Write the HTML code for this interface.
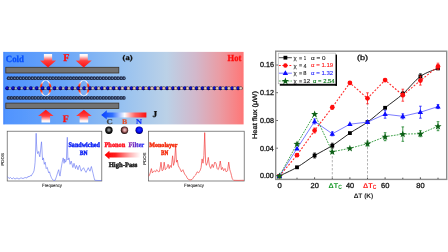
<!DOCTYPE html>
<html><head><meta charset="utf-8"><title>figure</title>
<style>html,body{margin:0;padding:0;background:#fff}svg{display:block}</style></head>
<body>
<svg width="448" height="252" viewBox="0 0 448 252" text-rendering="geometricPrecision">
<defs>
<filter id="soft" x="0" y="0" width="448" height="252" filterUnits="userSpaceOnUse"><feGaussianBlur stdDeviation="0.35"/></filter>
<linearGradient id="pg" x1="0" x2="1" y1="0" y2="0">
<stop offset="0" stop-color="#4f93ff"/>
<stop offset="0.25" stop-color="#6aa6f8"/>
<stop offset="0.5" stop-color="#98c2f0"/>
<stop offset="0.68" stop-color="#bbd1e7"/>
<stop offset="0.80" stop-color="#d2b8cb"/>
<stop offset="0.90" stop-color="#ea9ca4"/>
<stop offset="1" stop-color="#ff7676"/>
</linearGradient>
<linearGradient id="dn" x1="0" x2="0" y1="0" y2="1">
<stop offset="0" stop-color="#ffffff"/><stop offset="0.15" stop-color="#fff0f0"/><stop offset="0.5" stop-color="#ff4040"/><stop offset="1" stop-color="#ff1010"/>
</linearGradient>
<linearGradient id="up" x1="0" x2="0" y1="1" y2="0">
<stop offset="0" stop-color="#ffffff"/><stop offset="0.15" stop-color="#fff0f0"/><stop offset="0.5" stop-color="#ff4040"/><stop offset="1" stop-color="#ff1010"/>
</linearGradient>
<linearGradient id="jg" x1="0" x2="1" y1="0" y2="0">
<stop offset="0" stop-color="#0a40ff"/><stop offset="0.25" stop-color="#3070ff"/><stop offset="0.52" stop-color="#ffffff"/><stop offset="0.75" stop-color="#ff6060"/><stop offset="1" stop-color="#ff1010"/>
</linearGradient>
<linearGradient id="ra" x1="0" x2="1" y1="0" y2="0">
<stop offset="0" stop-color="#ff0000"/><stop offset="0.3" stop-color="#ff2020"/><stop offset="0.7" stop-color="#ffb0b0"/><stop offset="1" stop-color="#ffffff"/>
</linearGradient>
<linearGradient id="ring" x1="0" x2="0" y1="0" y2="1">
<stop offset="0" stop-color="#ffffff"/><stop offset="0.12" stop-color="#fff4f0"/><stop offset="0.3" stop-color="#ff3818"/><stop offset="0.5" stop-color="#ff1800"/><stop offset="0.7" stop-color="#ff3818"/><stop offset="0.88" stop-color="#fff4f0"/><stop offset="1" stop-color="#ffffff"/>
</linearGradient>
<radialGradient id="nb" cx="0.42" cy="0.42" r="0.6"><stop offset="0" stop-color="#1420f0"/><stop offset="0.45" stop-color="#0404b8"/><stop offset="1" stop-color="#000030"/></radialGradient>
<radialGradient id="bb" cx="0.5" cy="0.48" r="0.58"><stop offset="0" stop-color="#f8e8ec"/><stop offset="0.4" stop-color="#d8b4aa"/><stop offset="0.75" stop-color="#907060"/><stop offset="1" stop-color="#2a2018"/></radialGradient>
<radialGradient id="bg" cx="0.5" cy="0.48" r="0.58"><stop offset="0" stop-color="#d4d8ea"/><stop offset="0.4" stop-color="#98a0b8"/><stop offset="0.75" stop-color="#586078"/><stop offset="1" stop-color="#181c2c"/></radialGradient>
<radialGradient id="cC" cx="0.5" cy="0.47" r="0.52"><stop offset="0" stop-color="#a8a8a8"/><stop offset="0.35" stop-color="#6a6a6a"/><stop offset="0.62" stop-color="#1c1c1c"/><stop offset="1" stop-color="#000000"/></radialGradient>
<radialGradient id="cB" cx="0.53" cy="0.47" r="0.52"><stop offset="0" stop-color="#f6d4d4"/><stop offset="0.4" stop-color="#cc8c8c"/><stop offset="0.68" stop-color="#7a4444"/><stop offset="1" stop-color="#1c0c0c"/></radialGradient>
<radialGradient id="cN" cx="0.5" cy="0.45" r="0.55"><stop offset="0" stop-color="#2038ff"/><stop offset="0.6" stop-color="#0008f0"/><stop offset="0.85" stop-color="#0000a0"/><stop offset="1" stop-color="#000040"/></radialGradient>
<linearGradient id="filt" x1="0" x2="1" y1="0" y2="0"><stop offset="0" stop-color="#9020a0"/><stop offset="1" stop-color="#2030ff"/></linearGradient>
</defs>
<rect width="448" height="252" fill="#fff"/>
<g filter="url(#soft)">
<rect x="3.4" y="51.9" width="240.2" height="72.5" fill="url(#pg)"/>
<rect x="3.4" y="51.9" width="1" height="72.5" fill="#3a7cf8" opacity="0.7"/>
<rect x="5.8" y="67.3" width="113" height="5.6999999999999975" fill="#727272" stroke="#3c3226" stroke-width="0.8"/>
<rect x="5.8" y="103.1" width="113" height="5.4" fill="#727272" stroke="#3c3226" stroke-width="0.8"/>
<circle cx="8.50" cy="78.2" r="1.85" fill="#202c48"/>
<circle cx="11.35" cy="78.2" r="1.85" fill="#202c48"/>
<ellipse cx="8.85" cy="78.2" rx="0.75" ry="0.7" fill="#7890bc"/>
<ellipse cx="11.70" cy="78.2" rx="0.75" ry="0.7" fill="#7890bc"/>
<circle cx="14.42" cy="78.2" r="1.85" fill="#202c48"/>
<circle cx="17.27" cy="78.2" r="1.85" fill="#202c48"/>
<ellipse cx="14.77" cy="78.2" rx="0.75" ry="0.7" fill="#7890bc"/>
<ellipse cx="17.62" cy="78.2" rx="0.75" ry="0.7" fill="#7890bc"/>
<circle cx="20.34" cy="78.2" r="1.85" fill="#202c48"/>
<circle cx="23.19" cy="78.2" r="1.85" fill="#202c48"/>
<ellipse cx="20.69" cy="78.2" rx="0.75" ry="0.7" fill="#7890bc"/>
<ellipse cx="23.54" cy="78.2" rx="0.75" ry="0.7" fill="#7890bc"/>
<circle cx="26.26" cy="78.2" r="1.85" fill="#202c48"/>
<circle cx="29.11" cy="78.2" r="1.85" fill="#202c48"/>
<ellipse cx="26.61" cy="78.2" rx="0.75" ry="0.7" fill="#7890bc"/>
<ellipse cx="29.46" cy="78.2" rx="0.75" ry="0.7" fill="#7890bc"/>
<circle cx="32.18" cy="78.2" r="1.85" fill="#202c48"/>
<circle cx="35.03" cy="78.2" r="1.85" fill="#202c48"/>
<ellipse cx="32.53" cy="78.2" rx="0.75" ry="0.7" fill="#7890bc"/>
<ellipse cx="35.38" cy="78.2" rx="0.75" ry="0.7" fill="#7890bc"/>
<circle cx="38.10" cy="78.2" r="1.85" fill="#202c48"/>
<circle cx="40.95" cy="78.2" r="1.85" fill="#202c48"/>
<ellipse cx="38.45" cy="78.2" rx="0.75" ry="0.7" fill="#7890bc"/>
<ellipse cx="41.30" cy="78.2" rx="0.75" ry="0.7" fill="#7890bc"/>
<circle cx="44.02" cy="78.2" r="1.85" fill="#202c48"/>
<circle cx="46.87" cy="78.2" r="1.85" fill="#202c48"/>
<ellipse cx="44.37" cy="78.2" rx="0.75" ry="0.7" fill="#7890bc"/>
<ellipse cx="47.22" cy="78.2" rx="0.75" ry="0.7" fill="#7890bc"/>
<circle cx="49.94" cy="78.2" r="1.85" fill="#202c48"/>
<circle cx="52.79" cy="78.2" r="1.85" fill="#202c48"/>
<ellipse cx="50.29" cy="78.2" rx="0.75" ry="0.7" fill="#7890bc"/>
<ellipse cx="53.14" cy="78.2" rx="0.75" ry="0.7" fill="#7890bc"/>
<circle cx="55.86" cy="78.2" r="1.85" fill="#202c48"/>
<circle cx="58.71" cy="78.2" r="1.85" fill="#202c48"/>
<ellipse cx="56.21" cy="78.2" rx="0.75" ry="0.7" fill="#7890bc"/>
<ellipse cx="59.06" cy="78.2" rx="0.75" ry="0.7" fill="#7890bc"/>
<circle cx="61.78" cy="78.2" r="1.85" fill="#202c48"/>
<circle cx="64.63" cy="78.2" r="1.85" fill="#202c48"/>
<ellipse cx="62.13" cy="78.2" rx="0.75" ry="0.7" fill="#7890bc"/>
<ellipse cx="64.98" cy="78.2" rx="0.75" ry="0.7" fill="#7890bc"/>
<circle cx="67.70" cy="78.2" r="1.85" fill="#202c48"/>
<circle cx="70.55" cy="78.2" r="1.85" fill="#202c48"/>
<ellipse cx="68.05" cy="78.2" rx="0.75" ry="0.7" fill="#7890bc"/>
<ellipse cx="70.90" cy="78.2" rx="0.75" ry="0.7" fill="#7890bc"/>
<circle cx="73.62" cy="78.2" r="1.85" fill="#202c48"/>
<circle cx="76.47" cy="78.2" r="1.85" fill="#202c48"/>
<ellipse cx="73.97" cy="78.2" rx="0.75" ry="0.7" fill="#7890bc"/>
<ellipse cx="76.82" cy="78.2" rx="0.75" ry="0.7" fill="#7890bc"/>
<circle cx="79.54" cy="78.2" r="1.85" fill="#202c48"/>
<circle cx="82.39" cy="78.2" r="1.85" fill="#202c48"/>
<ellipse cx="79.89" cy="78.2" rx="0.75" ry="0.7" fill="#7890bc"/>
<ellipse cx="82.74" cy="78.2" rx="0.75" ry="0.7" fill="#7890bc"/>
<circle cx="85.46" cy="78.2" r="1.85" fill="#202c48"/>
<circle cx="88.31" cy="78.2" r="1.85" fill="#202c48"/>
<ellipse cx="85.81" cy="78.2" rx="0.75" ry="0.7" fill="#7890bc"/>
<ellipse cx="88.66" cy="78.2" rx="0.75" ry="0.7" fill="#7890bc"/>
<circle cx="91.38" cy="78.2" r="1.85" fill="#202c48"/>
<circle cx="94.23" cy="78.2" r="1.85" fill="#202c48"/>
<ellipse cx="91.73" cy="78.2" rx="0.75" ry="0.7" fill="#7890bc"/>
<ellipse cx="94.58" cy="78.2" rx="0.75" ry="0.7" fill="#7890bc"/>
<circle cx="97.30" cy="78.2" r="1.85" fill="#202c48"/>
<circle cx="100.15" cy="78.2" r="1.85" fill="#202c48"/>
<ellipse cx="97.65" cy="78.2" rx="0.75" ry="0.7" fill="#7890bc"/>
<ellipse cx="100.50" cy="78.2" rx="0.75" ry="0.7" fill="#7890bc"/>
<circle cx="103.22" cy="78.2" r="1.85" fill="#202c48"/>
<circle cx="106.07" cy="78.2" r="1.85" fill="#202c48"/>
<ellipse cx="103.57" cy="78.2" rx="0.75" ry="0.7" fill="#7890bc"/>
<ellipse cx="106.42" cy="78.2" rx="0.75" ry="0.7" fill="#7890bc"/>
<circle cx="109.14" cy="78.2" r="1.85" fill="#202c48"/>
<circle cx="111.99" cy="78.2" r="1.85" fill="#202c48"/>
<ellipse cx="109.49" cy="78.2" rx="0.75" ry="0.7" fill="#7890bc"/>
<ellipse cx="112.34" cy="78.2" rx="0.75" ry="0.7" fill="#7890bc"/>
<circle cx="115.06" cy="78.2" r="1.85" fill="#202c48"/>
<circle cx="117.91" cy="78.2" r="1.85" fill="#202c48"/>
<ellipse cx="115.41" cy="78.2" rx="0.75" ry="0.7" fill="#7890bc"/>
<ellipse cx="118.26" cy="78.2" rx="0.75" ry="0.7" fill="#7890bc"/>
<circle cx="120.98" cy="78.2" r="1.85" fill="#202c48"/>
<circle cx="123.83" cy="78.2" r="1.85" fill="#202c48"/>
<ellipse cx="121.33" cy="78.2" rx="0.75" ry="0.7" fill="#7890bc"/>
<ellipse cx="124.18" cy="78.2" rx="0.75" ry="0.7" fill="#7890bc"/>
<circle cx="8.50" cy="97.9" r="1.85" fill="#202c48"/>
<circle cx="11.35" cy="97.9" r="1.85" fill="#202c48"/>
<ellipse cx="8.85" cy="97.9" rx="0.75" ry="0.7" fill="#7890bc"/>
<ellipse cx="11.70" cy="97.9" rx="0.75" ry="0.7" fill="#7890bc"/>
<circle cx="14.42" cy="97.9" r="1.85" fill="#202c48"/>
<circle cx="17.27" cy="97.9" r="1.85" fill="#202c48"/>
<ellipse cx="14.77" cy="97.9" rx="0.75" ry="0.7" fill="#7890bc"/>
<ellipse cx="17.62" cy="97.9" rx="0.75" ry="0.7" fill="#7890bc"/>
<circle cx="20.34" cy="97.9" r="1.85" fill="#202c48"/>
<circle cx="23.19" cy="97.9" r="1.85" fill="#202c48"/>
<ellipse cx="20.69" cy="97.9" rx="0.75" ry="0.7" fill="#7890bc"/>
<ellipse cx="23.54" cy="97.9" rx="0.75" ry="0.7" fill="#7890bc"/>
<circle cx="26.26" cy="97.9" r="1.85" fill="#202c48"/>
<circle cx="29.11" cy="97.9" r="1.85" fill="#202c48"/>
<ellipse cx="26.61" cy="97.9" rx="0.75" ry="0.7" fill="#7890bc"/>
<ellipse cx="29.46" cy="97.9" rx="0.75" ry="0.7" fill="#7890bc"/>
<circle cx="32.18" cy="97.9" r="1.85" fill="#202c48"/>
<circle cx="35.03" cy="97.9" r="1.85" fill="#202c48"/>
<ellipse cx="32.53" cy="97.9" rx="0.75" ry="0.7" fill="#7890bc"/>
<ellipse cx="35.38" cy="97.9" rx="0.75" ry="0.7" fill="#7890bc"/>
<circle cx="38.10" cy="97.9" r="1.85" fill="#202c48"/>
<circle cx="40.95" cy="97.9" r="1.85" fill="#202c48"/>
<ellipse cx="38.45" cy="97.9" rx="0.75" ry="0.7" fill="#7890bc"/>
<ellipse cx="41.30" cy="97.9" rx="0.75" ry="0.7" fill="#7890bc"/>
<circle cx="44.02" cy="97.9" r="1.85" fill="#202c48"/>
<circle cx="46.87" cy="97.9" r="1.85" fill="#202c48"/>
<ellipse cx="44.37" cy="97.9" rx="0.75" ry="0.7" fill="#7890bc"/>
<ellipse cx="47.22" cy="97.9" rx="0.75" ry="0.7" fill="#7890bc"/>
<circle cx="49.94" cy="97.9" r="1.85" fill="#202c48"/>
<circle cx="52.79" cy="97.9" r="1.85" fill="#202c48"/>
<ellipse cx="50.29" cy="97.9" rx="0.75" ry="0.7" fill="#7890bc"/>
<ellipse cx="53.14" cy="97.9" rx="0.75" ry="0.7" fill="#7890bc"/>
<circle cx="55.86" cy="97.9" r="1.85" fill="#202c48"/>
<circle cx="58.71" cy="97.9" r="1.85" fill="#202c48"/>
<ellipse cx="56.21" cy="97.9" rx="0.75" ry="0.7" fill="#7890bc"/>
<ellipse cx="59.06" cy="97.9" rx="0.75" ry="0.7" fill="#7890bc"/>
<circle cx="61.78" cy="97.9" r="1.85" fill="#202c48"/>
<circle cx="64.63" cy="97.9" r="1.85" fill="#202c48"/>
<ellipse cx="62.13" cy="97.9" rx="0.75" ry="0.7" fill="#7890bc"/>
<ellipse cx="64.98" cy="97.9" rx="0.75" ry="0.7" fill="#7890bc"/>
<circle cx="67.70" cy="97.9" r="1.85" fill="#202c48"/>
<circle cx="70.55" cy="97.9" r="1.85" fill="#202c48"/>
<ellipse cx="68.05" cy="97.9" rx="0.75" ry="0.7" fill="#7890bc"/>
<ellipse cx="70.90" cy="97.9" rx="0.75" ry="0.7" fill="#7890bc"/>
<circle cx="73.62" cy="97.9" r="1.85" fill="#202c48"/>
<circle cx="76.47" cy="97.9" r="1.85" fill="#202c48"/>
<ellipse cx="73.97" cy="97.9" rx="0.75" ry="0.7" fill="#7890bc"/>
<ellipse cx="76.82" cy="97.9" rx="0.75" ry="0.7" fill="#7890bc"/>
<circle cx="79.54" cy="97.9" r="1.85" fill="#202c48"/>
<circle cx="82.39" cy="97.9" r="1.85" fill="#202c48"/>
<ellipse cx="79.89" cy="97.9" rx="0.75" ry="0.7" fill="#7890bc"/>
<ellipse cx="82.74" cy="97.9" rx="0.75" ry="0.7" fill="#7890bc"/>
<circle cx="85.46" cy="97.9" r="1.85" fill="#202c48"/>
<circle cx="88.31" cy="97.9" r="1.85" fill="#202c48"/>
<ellipse cx="85.81" cy="97.9" rx="0.75" ry="0.7" fill="#7890bc"/>
<ellipse cx="88.66" cy="97.9" rx="0.75" ry="0.7" fill="#7890bc"/>
<circle cx="91.38" cy="97.9" r="1.85" fill="#202c48"/>
<circle cx="94.23" cy="97.9" r="1.85" fill="#202c48"/>
<ellipse cx="91.73" cy="97.9" rx="0.75" ry="0.7" fill="#7890bc"/>
<ellipse cx="94.58" cy="97.9" rx="0.75" ry="0.7" fill="#7890bc"/>
<circle cx="97.30" cy="97.9" r="1.85" fill="#202c48"/>
<circle cx="100.15" cy="97.9" r="1.85" fill="#202c48"/>
<ellipse cx="97.65" cy="97.9" rx="0.75" ry="0.7" fill="#7890bc"/>
<ellipse cx="100.50" cy="97.9" rx="0.75" ry="0.7" fill="#7890bc"/>
<circle cx="103.22" cy="97.9" r="1.85" fill="#202c48"/>
<circle cx="106.07" cy="97.9" r="1.85" fill="#202c48"/>
<ellipse cx="103.57" cy="97.9" rx="0.75" ry="0.7" fill="#7890bc"/>
<ellipse cx="106.42" cy="97.9" rx="0.75" ry="0.7" fill="#7890bc"/>
<circle cx="109.14" cy="97.9" r="1.85" fill="#202c48"/>
<circle cx="111.99" cy="97.9" r="1.85" fill="#202c48"/>
<ellipse cx="109.49" cy="97.9" rx="0.75" ry="0.7" fill="#7890bc"/>
<ellipse cx="112.34" cy="97.9" rx="0.75" ry="0.7" fill="#7890bc"/>
<circle cx="115.06" cy="97.9" r="1.85" fill="#202c48"/>
<circle cx="117.91" cy="97.9" r="1.85" fill="#202c48"/>
<ellipse cx="115.41" cy="97.9" rx="0.75" ry="0.7" fill="#7890bc"/>
<ellipse cx="118.26" cy="97.9" rx="0.75" ry="0.7" fill="#7890bc"/>
<circle cx="120.98" cy="97.9" r="1.85" fill="#202c48"/>
<circle cx="123.83" cy="97.9" r="1.85" fill="#202c48"/>
<ellipse cx="121.33" cy="97.9" rx="0.75" ry="0.7" fill="#7890bc"/>
<ellipse cx="124.18" cy="97.9" rx="0.75" ry="0.7" fill="#7890bc"/>
<ellipse cx="45.7" cy="88.1" rx="4.8" ry="7.7" fill="none" stroke="#fff" stroke-width="0.7" opacity="0.8"/>
<path d="M45.7 80.1 A5.8 8 0 0 0 45.7 96.1 A3.7 8 0 0 1 45.7 80.1 Z" fill="url(#ring)"/>
<path d="M45.7 80.1 A5.8 8 0 0 1 45.7 96.1 A3.7 8 0 0 0 45.7 80.1 Z" fill="url(#ring)"/>
<ellipse cx="83.8" cy="88.1" rx="4.8" ry="7.7" fill="none" stroke="#fff" stroke-width="0.7" opacity="0.8"/>
<path d="M83.8 80.1 A5.8 8 0 0 0 83.8 96.1 A3.7 8 0 0 1 83.8 80.1 Z" fill="url(#ring)"/>
<path d="M83.8 80.1 A5.8 8 0 0 1 83.8 96.1 A3.7 8 0 0 0 83.8 80.1 Z" fill="url(#ring)"/>
<circle cx="7.20" cy="88.3" r="2.0" fill="url(#nb)"/>
<circle cx="13.12" cy="88.3" r="2.0" fill="url(#nb)"/>
<circle cx="19.04" cy="88.3" r="2.0" fill="url(#nb)"/>
<circle cx="24.96" cy="88.3" r="2.0" fill="url(#nb)"/>
<circle cx="30.88" cy="88.3" r="2.0" fill="url(#nb)"/>
<circle cx="36.80" cy="88.3" r="2.0" fill="url(#nb)"/>
<circle cx="42.72" cy="88.3" r="2.0" fill="url(#nb)"/>
<circle cx="48.64" cy="88.3" r="2.0" fill="url(#nb)"/>
<circle cx="54.56" cy="88.3" r="2.0" fill="url(#nb)"/>
<circle cx="60.48" cy="88.3" r="2.0" fill="url(#nb)"/>
<circle cx="66.40" cy="88.3" r="2.0" fill="url(#nb)"/>
<circle cx="72.32" cy="88.3" r="2.0" fill="url(#nb)"/>
<circle cx="78.24" cy="88.3" r="2.0" fill="url(#nb)"/>
<circle cx="84.16" cy="88.3" r="2.0" fill="url(#nb)"/>
<circle cx="90.08" cy="88.3" r="2.0" fill="url(#nb)"/>
<circle cx="96.00" cy="88.3" r="2.0" fill="url(#nb)"/>
<circle cx="101.92" cy="88.3" r="2.0" fill="url(#nb)"/>
<circle cx="107.84" cy="88.3" r="2.0" fill="url(#nb)"/>
<circle cx="113.76" cy="88.3" r="2.0" fill="url(#nb)"/>
<circle cx="119.68" cy="88.3" r="2.0" fill="url(#nb)"/>
<circle cx="125.60" cy="88.3" r="2.0" fill="url(#nb)"/>
<circle cx="131.52" cy="88.3" r="2.0" fill="url(#nb)"/>
<circle cx="137.44" cy="88.3" r="2.0" fill="url(#nb)"/>
<circle cx="143.36" cy="88.3" r="2.0" fill="url(#nb)"/>
<circle cx="149.28" cy="88.3" r="2.0" fill="url(#nb)"/>
<circle cx="155.20" cy="88.3" r="2.0" fill="url(#nb)"/>
<circle cx="161.12" cy="88.3" r="2.0" fill="url(#nb)"/>
<circle cx="167.04" cy="88.3" r="2.0" fill="url(#nb)"/>
<circle cx="172.96" cy="88.3" r="2.0" fill="url(#nb)"/>
<circle cx="178.88" cy="88.3" r="2.0" fill="url(#nb)"/>
<circle cx="184.80" cy="88.3" r="2.0" fill="url(#nb)"/>
<circle cx="190.72" cy="88.3" r="2.0" fill="url(#nb)"/>
<circle cx="196.64" cy="88.3" r="2.0" fill="url(#nb)"/>
<circle cx="202.56" cy="88.3" r="2.0" fill="url(#nb)"/>
<circle cx="208.48" cy="88.3" r="2.0" fill="url(#nb)"/>
<circle cx="214.40" cy="88.3" r="2.0" fill="url(#nb)"/>
<circle cx="220.32" cy="88.3" r="2.0" fill="url(#nb)"/>
<circle cx="226.24" cy="88.3" r="2.0" fill="url(#nb)"/>
<circle cx="232.16" cy="88.3" r="2.0" fill="url(#nb)"/>
<circle cx="238.08" cy="88.3" r="2.0" fill="url(#nb)"/>
<circle cx="9.90" cy="88.3" r="1.55" fill="url(#bg)" opacity="0.95"/>
<circle cx="15.82" cy="88.3" r="1.55" fill="url(#bg)" opacity="0.95"/>
<circle cx="21.74" cy="88.3" r="1.55" fill="url(#bg)" opacity="0.95"/>
<circle cx="27.66" cy="88.3" r="1.55" fill="url(#bg)" opacity="0.95"/>
<circle cx="33.58" cy="88.3" r="1.55" fill="url(#bg)" opacity="0.95"/>
<circle cx="33.58" cy="88.3" r="1.55" fill="url(#bb)" opacity="0.01"/>
<circle cx="39.50" cy="88.3" r="1.57" fill="url(#bg)" opacity="0.95"/>
<circle cx="39.50" cy="88.3" r="1.57" fill="url(#bb)" opacity="0.06"/>
<circle cx="45.42" cy="88.3" r="1.58" fill="url(#bg)" opacity="0.95"/>
<circle cx="45.42" cy="88.3" r="1.58" fill="url(#bb)" opacity="0.11"/>
<circle cx="51.34" cy="88.3" r="1.59" fill="url(#bg)" opacity="0.95"/>
<circle cx="51.34" cy="88.3" r="1.59" fill="url(#bb)" opacity="0.16"/>
<circle cx="57.26" cy="88.3" r="1.61" fill="url(#bg)" opacity="0.95"/>
<circle cx="57.26" cy="88.3" r="1.61" fill="url(#bb)" opacity="0.21"/>
<circle cx="63.18" cy="88.3" r="1.62" fill="url(#bg)" opacity="0.95"/>
<circle cx="63.18" cy="88.3" r="1.62" fill="url(#bb)" opacity="0.26"/>
<circle cx="69.10" cy="88.3" r="1.63" fill="url(#bg)" opacity="0.95"/>
<circle cx="69.10" cy="88.3" r="1.63" fill="url(#bb)" opacity="0.31"/>
<circle cx="75.02" cy="88.3" r="1.65" fill="url(#bg)" opacity="0.95"/>
<circle cx="75.02" cy="88.3" r="1.65" fill="url(#bb)" opacity="0.37"/>
<circle cx="80.94" cy="88.3" r="1.66" fill="url(#bg)" opacity="0.95"/>
<circle cx="80.94" cy="88.3" r="1.66" fill="url(#bb)" opacity="0.42"/>
<circle cx="86.86" cy="88.3" r="1.67" fill="url(#bg)" opacity="0.95"/>
<circle cx="86.86" cy="88.3" r="1.67" fill="url(#bb)" opacity="0.47"/>
<circle cx="92.78" cy="88.3" r="1.69" fill="url(#bg)" opacity="0.95"/>
<circle cx="92.78" cy="88.3" r="1.69" fill="url(#bb)" opacity="0.52"/>
<circle cx="98.70" cy="88.3" r="1.70" fill="url(#bg)" opacity="0.95"/>
<circle cx="98.70" cy="88.3" r="1.70" fill="url(#bb)" opacity="0.57"/>
<circle cx="104.62" cy="88.3" r="1.71" fill="url(#bg)" opacity="0.95"/>
<circle cx="104.62" cy="88.3" r="1.71" fill="url(#bb)" opacity="0.62"/>
<circle cx="110.54" cy="88.3" r="1.73" fill="url(#bg)" opacity="0.95"/>
<circle cx="110.54" cy="88.3" r="1.73" fill="url(#bb)" opacity="0.67"/>
<circle cx="116.46" cy="88.3" r="1.74" fill="url(#bg)" opacity="0.95"/>
<circle cx="116.46" cy="88.3" r="1.74" fill="url(#bb)" opacity="0.72"/>
<circle cx="122.38" cy="88.3" r="1.75" fill="url(#bg)" opacity="0.95"/>
<circle cx="122.38" cy="88.3" r="1.75" fill="url(#bb)" opacity="0.77"/>
<circle cx="128.30" cy="88.3" r="1.77" fill="url(#bg)" opacity="0.95"/>
<circle cx="128.30" cy="88.3" r="1.77" fill="url(#bb)" opacity="0.83"/>
<circle cx="134.22" cy="88.3" r="1.78" fill="url(#bg)" opacity="0.95"/>
<circle cx="134.22" cy="88.3" r="1.78" fill="url(#bb)" opacity="0.88"/>
<circle cx="140.14" cy="88.3" r="1.79" fill="url(#bg)" opacity="0.95"/>
<circle cx="140.14" cy="88.3" r="1.79" fill="url(#bb)" opacity="0.93"/>
<circle cx="146.06" cy="88.3" r="1.80" fill="url(#bg)" opacity="0.95"/>
<circle cx="146.06" cy="88.3" r="1.80" fill="url(#bb)" opacity="0.95"/>
<circle cx="151.98" cy="88.3" r="1.80" fill="url(#bg)" opacity="0.95"/>
<circle cx="151.98" cy="88.3" r="1.80" fill="url(#bb)" opacity="0.95"/>
<circle cx="157.90" cy="88.3" r="1.80" fill="url(#bg)" opacity="0.95"/>
<circle cx="157.90" cy="88.3" r="1.80" fill="url(#bb)" opacity="0.95"/>
<circle cx="163.82" cy="88.3" r="1.80" fill="url(#bg)" opacity="0.95"/>
<circle cx="163.82" cy="88.3" r="1.80" fill="url(#bb)" opacity="0.95"/>
<circle cx="169.74" cy="88.3" r="1.80" fill="url(#bg)" opacity="0.95"/>
<circle cx="169.74" cy="88.3" r="1.80" fill="url(#bb)" opacity="0.95"/>
<circle cx="175.66" cy="88.3" r="1.80" fill="url(#bg)" opacity="0.95"/>
<circle cx="175.66" cy="88.3" r="1.80" fill="url(#bb)" opacity="0.95"/>
<circle cx="181.58" cy="88.3" r="1.80" fill="url(#bg)" opacity="0.95"/>
<circle cx="181.58" cy="88.3" r="1.80" fill="url(#bb)" opacity="0.95"/>
<circle cx="187.50" cy="88.3" r="1.80" fill="url(#bg)" opacity="0.95"/>
<circle cx="187.50" cy="88.3" r="1.80" fill="url(#bb)" opacity="0.95"/>
<circle cx="193.42" cy="88.3" r="1.80" fill="url(#bg)" opacity="0.95"/>
<circle cx="193.42" cy="88.3" r="1.80" fill="url(#bb)" opacity="0.95"/>
<circle cx="199.34" cy="88.3" r="1.80" fill="url(#bg)" opacity="0.95"/>
<circle cx="199.34" cy="88.3" r="1.80" fill="url(#bb)" opacity="0.95"/>
<circle cx="205.26" cy="88.3" r="1.80" fill="url(#bg)" opacity="0.95"/>
<circle cx="205.26" cy="88.3" r="1.80" fill="url(#bb)" opacity="0.95"/>
<circle cx="211.18" cy="88.3" r="1.80" fill="url(#bg)" opacity="0.95"/>
<circle cx="211.18" cy="88.3" r="1.80" fill="url(#bb)" opacity="0.95"/>
<circle cx="217.10" cy="88.3" r="1.80" fill="url(#bg)" opacity="0.95"/>
<circle cx="217.10" cy="88.3" r="1.80" fill="url(#bb)" opacity="0.95"/>
<circle cx="223.02" cy="88.3" r="1.80" fill="url(#bg)" opacity="0.95"/>
<circle cx="223.02" cy="88.3" r="1.80" fill="url(#bb)" opacity="0.95"/>
<circle cx="228.94" cy="88.3" r="1.80" fill="url(#bg)" opacity="0.95"/>
<circle cx="228.94" cy="88.3" r="1.80" fill="url(#bb)" opacity="0.95"/>
<circle cx="234.86" cy="88.3" r="1.80" fill="url(#bg)" opacity="0.95"/>
<circle cx="234.86" cy="88.3" r="1.80" fill="url(#bb)" opacity="0.95"/>
<circle cx="240.78" cy="88.3" r="1.80" fill="url(#bg)" opacity="0.95"/>
<circle cx="240.78" cy="88.3" r="1.80" fill="url(#bb)" opacity="0.95"/>
<path d="M43.9 54 H52.1 V60.5 H56.1 L48 67.5 L39.9 60.5 H43.9 Z" fill="url(#dn)"/>
<path d="M79.60000000000001 54 H87.8 V60.5 H91.8 L83.7 67.5 L75.60000000000001 60.5 H79.60000000000001 Z" fill="url(#dn)"/>
<path d="M41.5 122.5 H50.099999999999994 V116 H53.599999999999994 L45.8 109.8 L38.0 116 H41.5 Z" fill="url(#up)"/>
<path d="M79.60000000000001 122.5 H88.2 V116 H91.7 L83.9 109.8 L76.10000000000001 116 H79.60000000000001 Z" fill="url(#up)"/>
<path d="M101.2 115 L106.8 110.3 V112.4 H146.4 V117.5 H106.8 V119.5 Z" fill="url(#jg)"/>
<text transform="translate(5.76,61.90) scale(0.928,1)" font-family='"Liberation Serif", serif' font-size="9.50" font-weight="bold" fill="#0a50fa" stroke="#0a50fa" stroke-width="0.3" stroke-linejoin="round">Cold</text>
<text transform="translate(63.35,61.40) scale(0.995,1)" font-family='"Liberation Serif", serif' font-size="10.23" font-weight="bold" fill="#ff1010" stroke="#ff1010" stroke-width="0.3" stroke-linejoin="round">F</text>
<text transform="translate(62.75,121.90) scale(0.974,1)" font-family='"Liberation Serif", serif' font-size="10.08" font-weight="bold" fill="#ff1010" stroke="#ff1010" stroke-width="0.3" stroke-linejoin="round">F</text>
<text transform="translate(122.62,60.09) scale(1.128,1)" font-family='"Liberation Serif", serif' font-size="7.47" font-weight="bold" fill="#111" stroke="#111" stroke-width="0.3" stroke-linejoin="round">(a)</text>
<text transform="translate(227.57,61.41) scale(0.915,1)" font-family='"Liberation Serif", serif' font-size="9.32" font-weight="bold" fill="#ff0808" stroke="#ff0808" stroke-width="0.3" stroke-linejoin="round">Hot</text>
<text transform="translate(152.48,117.41) scale(1.031,1)" font-family='"Liberation Serif", serif' font-size="9.02" font-weight="bold" fill="#111" stroke="#111" stroke-width="0.3" stroke-linejoin="round">J</text>
<text transform="translate(106.46,124.03) scale(1.195,1)" font-family='"Liberation Serif", serif' font-size="7.31" font-weight="bold" fill="#444" stroke="#444" stroke-width="0.2" stroke-linejoin="round">C</text>
<text transform="translate(121.88,123.96) scale(1.056,1)" font-family='"Liberation Serif", serif' font-size="7.27" font-weight="bold" fill="#e2502c" stroke="#e2502c" stroke-width="0.2" stroke-linejoin="round">B</text>
<text transform="translate(136.03,124.00) scale(1.127,1)" font-family='"Liberation Serif", serif' font-size="7.33" font-weight="bold" fill="#1030ff" stroke="#1030ff" stroke-width="0.2" stroke-linejoin="round">N</text>
<circle cx="108.9" cy="130.2" r="3.7" fill="url(#cC)"/>
<circle cx="124.5" cy="130.2" r="3.7" fill="url(#cB)"/>
<circle cx="139.2" cy="130.2" r="3.7" fill="url(#cN)"/>
<rect x="7.2" y="131.2" width="94.6" height="49.8" fill="#fff" stroke="#555" stroke-width="0.7"/>
<rect x="148.6" y="131.2" width="95.6" height="49.8" fill="#fff" stroke="#555" stroke-width="0.7"/>
<polyline fill="none" stroke="#6272f2" stroke-width="0.62" stroke-linejoin="round" points="7.5,176.5 9,178.5 10.5,177.5 12,179 13.5,177.8 15,179 17,178 19,179 21,177.8 23,178.6 25,177.5 27,178 28,176.3 29,177 30.1,175.6 31.2,176 32.3,174 33.2,172.8 34,170.8 34.6,167 35.1,162.2 35.5,154 35.8,144 36.15,133.3 36.5,143 36.9,150 37.65,153.6 38.2,152.5 38.7,151.5 39.2,154.5 39.8,156.8 40.4,152 41,146 41.5,141.8 41.9,148 42.3,156 42.6,160 43,158.7 43.45,157.9 43.9,161.5 44.3,164.3 44.8,163 45.2,162.2 45.7,165.5 46.2,168.6 46.8,167.8 47.3,167.5 48,170.5 48.8,172.9 49.5,171.8 50.3,174.8 51.2,177.2 52,178.8 52.7,179.8 53.8,180.4 55.1,180.4 56.6,176.1 57.9,171.8 58.7,169.7 59.4,174 60,176.1 61.1,168.6 62.2,162.2 63.2,157.9 64.1,163.3 64.7,159 65.6,162.2 66.4,160 66.85,148 67.3,137.3 67.6,149 67.9,160 69,157.9 70.1,164.3 71.2,161.1 72.9,167.5 74,163.3 75.5,168.6 76.5,165.4 78,169.7 78.5,167.5 79.5,165.3 80.4,168.5 81.2,171.2 82.4,169 83.6,167.7 84.8,170.5 86,172.4 87.2,170 88.3,167.7 89.2,169.8 90,171.2 90.7,168.5 91.4,166.5 92.2,170 93.1,173.6 94,177.5 94.8,180.3 98,180.5 101.6,180.5"/>
<polyline fill="none" stroke="#f23c3c" stroke-width="0.7" stroke-linejoin="round" points="148.8,176.3 149.9,174 150.7,171 151.4,168.6 151.9,170.8 152.4,172.9 153.3,171.6 154.2,170.8 155,171.5 155.7,171.8 156.2,170.6 156.7,169.7 157.6,171 158.4,171.8 159.5,171.4 160.3,167 161,162.2 161.6,167 162.1,170.8 162.7,170.4 163.2,169.7 163.7,166 164.2,162.2 164.8,166.5 165.3,169.7 166.2,168.7 167,167.5 167.6,165.8 168.1,164.3 168.7,166.8 169.2,168.6 169.7,167 170.2,165.4 170.8,166.6 171.3,167.5 172,161 172.6,155.8 173.1,161 173.5,165.4 174,163.6 174.5,162.2 175.1,154 175.6,146.1 176.1,155 176.5,162.2 176.9,161 177.3,160 177.8,163 178.2,165.4 179,167.2 179.9,168.6 180.7,170.4 181.4,171.8 182.2,170.5 182.9,169.7 183.8,172 184.6,174 185.5,175.2 186.3,176.1 187,177.7 187.8,178.9 188.9,179.6 190,179.9 191,179.8 192.1,179.4 192.9,178.4 193.6,177.2 194.5,176 195.7,175 196.5,173.2 197.2,171.8 198,172.4 198.7,172.8 199.4,171.6 200,170.7 200.6,169.2 201.1,167.5 201.6,163 202.1,158.9 202.6,161.5 203,163.2 203.5,159.5 203.9,155.7 204.3,144 204.7,132.6 205.15,147 205.6,162.1 206,164 206.4,165.3 207,163.5 207.5,162.1 207.9,159.5 208.3,157.4 208.9,161.8 209.4,165.3 210,167 210.7,168.5 211.5,166.2 212.2,164.3 212.8,166 213.3,167.5 214.1,164.6 214.8,162.1 215.4,162.8 216,163.2 216.6,166 217.1,168.5 217.7,169.2 218.2,169.6 218.8,168 219.3,166.4 219.8,163.5 220.3,161 220.9,165.5 221.4,169.6 222,168.4 222.5,167.5 223.1,169.2 223.6,170.7 224.3,169.5 225,168.5 225.6,170.3 226.1,171.8 226.9,171.2 227.6,170.7 228.2,166 228.7,162.1 229.3,166 229.8,169.6 230.3,171.3 230.8,172.8 231.5,175.6 232.1,178.2 232.9,179.6 233.6,180.3 238,180.4 244,180.3"/>
<text transform="translate(68.47,147.13) scale(0.875,1)" font-family='"Liberation Serif", serif' font-size="6.95" font-weight="bold" fill="#0c20f4" stroke="#0c20f4" stroke-width="0.42" stroke-linejoin="round">Sandwiched</text>
<text transform="translate(79.82,154.87) scale(0.849,1)" font-family='"Liberation Serif", serif' font-size="6.67" font-weight="bold" fill="#0c20f4" stroke="#0c20f4" stroke-width="0.42" stroke-linejoin="round">BN</text>
<text transform="translate(149.31,146.78) scale(0.917,1)" font-family='"Liberation Serif", serif' font-size="6.59" font-weight="bold" fill="#f42808" stroke="#f42808" stroke-width="0.42" stroke-linejoin="round">Monolayer</text>
<text transform="translate(160.92,155.07) scale(0.760,1)" font-family='"Liberation Serif", serif' font-size="6.97" font-weight="bold" fill="#f42808" stroke="#f42808" stroke-width="0.42" stroke-linejoin="round">BN</text>
<text transform="translate(104.50,147.33) scale(0.912,1)" font-family='"Liberation Serif", serif' font-size="6.95" font-weight="bold" fill="#ff0c1c" stroke="#ff0c1c" stroke-width="0.42" stroke-linejoin="round">Phonon</text>
<text transform="translate(128.60,147.33) scale(0.947,1)" font-family='"Liberation Serif", serif' font-size="6.95" font-weight="bold" fill="url(#filt)" stroke="url(#filt)" stroke-width="0.3">Filter</text>
<text transform="translate(108.70,166.91) scale(0.979,1)" font-family='"Liberation Serif", serif' font-size="6.78" font-weight="bold" fill="#1c1c1c" stroke="#1c1c1c" stroke-width="0.4" stroke-linejoin="round">High-Pass</text>
<path d="M104.6 155 L109.4 150.8 V152.4 H140.5 V157.5 H109.4 V159.3 Z" fill="url(#ra)"/>
<text transform="translate(3.9,159.3) rotate(-90) scale(1.1,1)" text-anchor="middle" font-family='"Liberation Sans", sans-serif' font-size="4.05" fill="#2a2a2a" stroke="#333" stroke-width="0.12">PDOS</text>
<text transform="translate(145.5,158.7) rotate(-90) scale(1.07,1)" text-anchor="middle" font-family='"Liberation Sans", sans-serif' font-size="4.05" fill="#2a2a2a" stroke="#333" stroke-width="0.12">PDOS</text>
<text transform="translate(42.06,187.04) scale(0.926,1)" font-family='"Liberation Sans", sans-serif' font-size="4.56" font-weight="normal" fill="#2a2a2a" stroke="#333" stroke-width="0.12">Frequency</text>
<text transform="translate(184.06,186.69) scale(0.926,1)" font-family='"Liberation Sans", sans-serif' font-size="4.56" font-weight="normal" fill="#2a2a2a" stroke="#333" stroke-width="0.12">Frequency</text>
<rect x="275.7" y="51.2" width="171.0" height="128.2" fill="#fff" stroke="#8e8e8e" stroke-width="1.4"/>
<line x1="276.3" x2="277.9" y1="175.9" y2="175.9" stroke="#333" stroke-width="0.8"/>
<text transform="translate(259.91,178.33) scale(0.978,1)" font-family='"Liberation Sans", sans-serif' font-size="7.32" font-weight="normal" fill="#111" stroke="#111" stroke-width="0.28">0.00</text>
<line x1="276.3" x2="277.9" y1="148.2" y2="148.2" stroke="#333" stroke-width="0.8"/>
<text transform="translate(259.91,150.60) scale(0.976,1)" font-family='"Liberation Sans", sans-serif' font-size="7.32" font-weight="normal" fill="#111" stroke="#111" stroke-width="0.28">0.04</text>
<line x1="276.3" x2="277.9" y1="120.5" y2="120.5" stroke="#333" stroke-width="0.8"/>
<text transform="translate(259.91,122.88) scale(0.981,1)" font-family='"Liberation Sans", sans-serif' font-size="7.32" font-weight="normal" fill="#111" stroke="#111" stroke-width="0.28">0.08</text>
<line x1="276.3" x2="277.9" y1="92.7" y2="92.7" stroke="#333" stroke-width="0.8"/>
<text transform="translate(259.91,95.15) scale(0.986,1)" font-family='"Liberation Sans", sans-serif' font-size="7.32" font-weight="normal" fill="#111" stroke="#111" stroke-width="0.28">0.12</text>
<line x1="276.3" x2="277.9" y1="65.0" y2="65.0" stroke="#333" stroke-width="0.8"/>
<text transform="translate(259.91,67.43) scale(0.981,1)" font-family='"Liberation Sans", sans-serif' font-size="7.32" font-weight="normal" fill="#111" stroke="#111" stroke-width="0.28">0.16</text>
<line x1="279.4" x2="279.4" y1="179.0" y2="177.3" stroke="#333" stroke-width="0.8"/>
<line x1="297.0" x2="297.0" y1="179.0" y2="177.7" stroke="#333" stroke-width="0.8"/>
<line x1="314.6" x2="314.6" y1="179.0" y2="177.3" stroke="#333" stroke-width="0.8"/>
<line x1="332.3" x2="332.3" y1="179.0" y2="177.7" stroke="#333" stroke-width="0.8"/>
<line x1="349.9" x2="349.9" y1="179.0" y2="177.3" stroke="#333" stroke-width="0.8"/>
<line x1="367.5" x2="367.5" y1="179.0" y2="177.7" stroke="#333" stroke-width="0.8"/>
<line x1="385.1" x2="385.1" y1="179.0" y2="177.3" stroke="#333" stroke-width="0.8"/>
<line x1="402.8" x2="402.8" y1="179.0" y2="177.7" stroke="#333" stroke-width="0.8"/>
<line x1="420.4" x2="420.4" y1="179.0" y2="177.3" stroke="#333" stroke-width="0.8"/>
<line x1="438.0" x2="438.0" y1="179.0" y2="177.7" stroke="#333" stroke-width="0.8"/>
<text transform="translate(277.39,187.63) scale(1.052,1)" font-family='"Liberation Sans", sans-serif' font-size="7.32" font-weight="normal" fill="#111" stroke="#111" stroke-width="0.28">0</text>
<text transform="translate(310.57,187.63) scale(1.026,1)" font-family='"Liberation Sans", sans-serif' font-size="7.32" font-weight="normal" fill="#111" stroke="#111" stroke-width="0.28">20</text>
<text transform="translate(346.04,187.63) scale(0.997,1)" font-family='"Liberation Sans", sans-serif' font-size="7.32" font-weight="normal" fill="#111" stroke="#111" stroke-width="0.28">40</text>
<text transform="translate(381.06,187.63) scale(1.026,1)" font-family='"Liberation Sans", sans-serif' font-size="7.32" font-weight="normal" fill="#111" stroke="#111" stroke-width="0.28">60</text>
<text transform="translate(416.34,187.63) scale(1.021,1)" font-family='"Liberation Sans", sans-serif' font-size="7.32" font-weight="normal" fill="#111" stroke="#111" stroke-width="0.28">80</text>
<line x1="332.3" x2="332.3" y1="152" y2="179" stroke="#959595" stroke-width="0.7" stroke-dasharray="2.4 1.6"/>
<line x1="367.5" x2="367.5" y1="99" y2="179" stroke="#959595" stroke-width="0.7" stroke-dasharray="2.4 1.6"/>
<path d="M279.4 176 C282.3 174.6 291.1 170.7 297.0 167.3 C302.9 163.9 308.8 159.1 314.6 155.5 C320.5 151.9 326.4 149.4 332.3 145.7 C338.1 142.0 344.0 137.0 349.9 133.1 C355.8 129.2 361.6 126.3 367.5 122.1 C373.4 117.9 379.3 112.5 385.1 107.8 C391.0 103.1 396.9 99.2 402.8 94.0 C408.6 88.8 414.5 80.7 420.4 76.4 C426.3 72.1 435.1 69.7 438.0 68.4" fill="none" stroke="#1a1a1a" stroke-width="0.95"/>
<path d="M314.6 153.0 V158.0 M313.3 153.0 h2.6 M313.3 158.0 h2.6" stroke="#000" stroke-width="0.75" fill="none"/>
<path d="M332.3 143.2 V148.2 M331.0 143.2 h2.6 M331.0 148.2 h2.6" stroke="#000" stroke-width="0.75" fill="none"/>
<path d="M402.8 91.4 V96.6 M401.5 91.4 h2.6 M401.5 96.6 h2.6" stroke="#000" stroke-width="0.75" fill="none"/>
<path d="M420.4 73.8 V79.0 M419.1 73.8 h2.6 M419.1 79.0 h2.6" stroke="#000" stroke-width="0.75" fill="none"/>
<rect x="277.5" y="174.1" width="3.8" height="3.8" fill="#000"/>
<rect x="295.1" y="165.4" width="3.8" height="3.8" fill="#000"/>
<rect x="312.7" y="153.6" width="3.8" height="3.8" fill="#000"/>
<rect x="330.4" y="143.79999999999998" width="3.8" height="3.8" fill="#000"/>
<rect x="348.0" y="131.2" width="3.8" height="3.8" fill="#000"/>
<rect x="365.6" y="120.19999999999999" width="3.8" height="3.8" fill="#000"/>
<rect x="383.2" y="105.89999999999999" width="3.8" height="3.8" fill="#000"/>
<rect x="400.9" y="92.1" width="3.8" height="3.8" fill="#000"/>
<rect x="418.5" y="74.5" width="3.8" height="3.8" fill="#000"/>
<rect x="436.1" y="66.5" width="3.8" height="3.8" fill="#000"/>
<polyline fill="none" stroke="#ff2828" stroke-width="1.1" stroke-dasharray="1.9 1.6" points="279.4,176 297.0,155.2 314.6,130.5 332.3,107.3 349.9,82.9 367.5,98.3 385.1,80.1 402.8,95.2 420.4,80.6 438.0,66.4"/>
<path d="M314.6 128.0 V133.0 M313.3 128.0 h2.6 M313.3 133.0 h2.6" stroke="#ff1010" stroke-width="0.75" fill="none"/>
<path d="M332.3 105.3 V109.3 M331.0 105.3 h2.6 M331.0 109.3 h2.6" stroke="#ff1010" stroke-width="0.75" fill="none"/>
<path d="M367.5 92.8 V103.8 M366.2 92.8 h2.6 M366.2 103.8 h2.6" stroke="#ff1010" stroke-width="0.75" fill="none"/>
<path d="M402.8 89.2 V101.2 M401.5 89.2 h2.6 M401.5 101.2 h2.6" stroke="#ff1010" stroke-width="0.75" fill="none"/>
<path d="M420.4 76.1 V85.1 M419.1 76.1 h2.6 M419.1 85.1 h2.6" stroke="#ff1010" stroke-width="0.75" fill="none"/>
<path d="M438.0 63.2 V69.6 M436.7 63.2 h2.6 M436.7 69.6 h2.6" stroke="#ff1010" stroke-width="0.75" fill="none"/>
<circle cx="279.4" cy="176" r="2.35" fill="#ff0808"/>
<circle cx="297.0" cy="155.2" r="2.35" fill="#ff0808"/>
<circle cx="314.6" cy="130.5" r="2.35" fill="#ff0808"/>
<circle cx="332.3" cy="107.3" r="2.35" fill="#ff0808"/>
<circle cx="349.9" cy="82.9" r="2.35" fill="#ff0808"/>
<circle cx="367.5" cy="98.3" r="2.35" fill="#ff0808"/>
<circle cx="385.1" cy="80.1" r="2.35" fill="#ff0808"/>
<circle cx="402.8" cy="95.2" r="2.35" fill="#ff0808"/>
<circle cx="420.4" cy="80.6" r="2.35" fill="#ff0808"/>
<circle cx="438.0" cy="66.4" r="2.35" fill="#ff0808"/>
<polyline fill="none" stroke="#5a5aff" stroke-width="0.8" points="279.4,176 297.0,148.6 314.6,121.4 332.3,133.8 349.9,124.2 367.5,122.1 385.1,114.2 402.8,116.3 420.4,112.2 438.0,106.6"/>
<path d="M314.6 118.9 V123.9 M313.3 118.9 h2.6 M313.3 123.9 h2.6" stroke="#1010ff" stroke-width="0.75" fill="none"/>
<path d="M332.3 131.8 V135.8 M331.0 131.8 h2.6 M331.0 135.8 h2.6" stroke="#1010ff" stroke-width="0.75" fill="none"/>
<path d="M385.1 110.2 V118.2 M383.8 110.2 h2.6 M383.8 118.2 h2.6" stroke="#1010ff" stroke-width="0.75" fill="none"/>
<path d="M402.8 113.8 V118.8 M401.5 113.8 h2.6 M401.5 118.8 h2.6" stroke="#1010ff" stroke-width="0.75" fill="none"/>
<path d="M420.4 106.2 V118.2 M419.1 106.2 h2.6 M419.1 118.2 h2.6" stroke="#1010ff" stroke-width="0.75" fill="none"/>
<path d="M438.0 104.6 V108.6 M436.7 104.6 h2.6 M436.7 108.6 h2.6" stroke="#1010ff" stroke-width="0.75" fill="none"/>
<polygon points="279.4,173.1 282.1,177.9 276.7,177.9" fill="#0a0aff"/>
<polygon points="297.0,145.7 299.7,150.5 294.3,150.5" fill="#0a0aff"/>
<polygon points="314.6,118.5 317.3,123.30000000000001 311.9,123.30000000000001" fill="#0a0aff"/>
<polygon points="332.3,130.9 335.0,135.70000000000002 329.6,135.70000000000002" fill="#0a0aff"/>
<polygon points="349.9,121.3 352.6,126.10000000000001 347.2,126.10000000000001" fill="#0a0aff"/>
<polygon points="367.5,119.19999999999999 370.2,124.0 364.8,124.0" fill="#0a0aff"/>
<polygon points="385.1,111.3 387.8,116.10000000000001 382.4,116.10000000000001" fill="#0a0aff"/>
<polygon points="402.8,113.39999999999999 405.5,118.2 400.1,118.2" fill="#0a0aff"/>
<polygon points="420.4,109.3 423.1,114.10000000000001 417.7,114.10000000000001" fill="#0a0aff"/>
<polygon points="438.0,103.69999999999999 440.7,108.5 435.3,108.5" fill="#0a0aff"/>
<polyline fill="none" stroke="#2f9a3a" stroke-width="0.9" stroke-dasharray="1.8 1.1" points="279.4,176 297.0,143.9 314.6,114 332.3,151.8 349.9,148.3 367.5,143.6 385.1,136.7 402.8,134.1 420.4,133.7 438.0,126.2"/>
<path d="M367.5 141.1 V146.1 M366.2 141.1 h2.6 M366.2 146.1 h2.6" stroke="#0a7a1a" stroke-width="0.75" fill="none"/>
<path d="M385.1 132.7 V140.7 M383.8 132.7 h2.6 M383.8 140.7 h2.6" stroke="#0a7a1a" stroke-width="0.75" fill="none"/>
<path d="M402.8 126.9 V141.3 M401.5 126.9 h2.6 M401.5 141.3 h2.6" stroke="#0a7a1a" stroke-width="0.75" fill="none"/>
<path d="M420.4 130.7 V136.7 M419.1 130.7 h2.6 M419.1 136.7 h2.6" stroke="#0a7a1a" stroke-width="0.75" fill="none"/>
<path d="M438.0 121.7 V130.7 M436.7 121.7 h2.6 M436.7 130.7 h2.6" stroke="#0a7a1a" stroke-width="0.75" fill="none"/>
<polygon points="279.40,172.50 280.31,174.94 282.92,175.06 280.88,176.68 281.57,179.19 279.40,177.75 277.23,179.19 277.92,176.68 275.88,175.06 278.49,174.94" fill="#0a5e14"/>
<polygon points="297.02,140.40 297.94,142.84 300.54,142.96 298.50,144.58 299.20,147.09 297.02,145.65 294.85,147.09 295.54,144.58 293.50,142.96 296.11,142.84" fill="#0a5e14"/>
<polygon points="314.64,110.50 315.56,112.94 318.16,113.06 316.12,114.68 316.82,117.19 314.64,115.75 312.47,117.19 313.17,114.68 311.13,113.06 313.73,112.94" fill="#0a5e14"/>
<polygon points="332.27,148.30 333.18,150.74 335.79,150.86 333.74,152.48 334.44,154.99 332.27,153.55 330.09,154.99 330.79,152.48 328.75,150.86 331.35,150.74" fill="#0a5e14"/>
<polygon points="349.89,144.80 350.80,147.24 353.41,147.36 351.37,148.98 352.06,151.49 349.89,150.05 347.71,151.49 348.41,148.98 346.37,147.36 348.98,147.24" fill="#0a5e14"/>
<polygon points="367.51,140.10 368.42,142.54 371.03,142.66 368.99,144.28 369.69,146.79 367.51,145.35 365.34,146.79 366.03,144.28 363.99,142.66 366.60,142.54" fill="#0a5e14"/>
<polygon points="385.13,133.20 386.05,135.64 388.65,135.76 386.61,137.38 387.31,139.89 385.13,138.45 382.96,139.89 383.66,137.38 381.61,135.76 384.22,135.64" fill="#0a5e14"/>
<polygon points="402.76,130.60 403.67,133.04 406.27,133.16 404.23,134.78 404.93,137.29 402.76,135.85 400.58,137.29 401.28,134.78 399.24,133.16 401.84,133.04" fill="#0a5e14"/>
<polygon points="420.38,130.20 421.29,132.64 423.90,132.76 421.86,134.38 422.55,136.89 420.38,135.45 418.20,136.89 418.90,134.38 416.86,132.76 419.46,132.64" fill="#0a5e14"/>
<polygon points="438.00,122.70 438.91,125.14 441.52,125.26 439.48,126.88 440.17,129.39 438.00,127.95 435.83,129.39 436.52,126.88 434.48,125.26 437.09,125.14" fill="#0a5e14"/>
<rect x="335.2" y="54.6" width="1.8" height="31.1" fill="#000"/>
<rect x="279.8" y="83.7" width="57.2" height="2" fill="#000"/>
<rect x="278.2" y="53.1" width="57.1" height="30.7" fill="#fff" stroke="#9a9a9a" stroke-width="0.5"/>
<line x1="278.9" x2="291.9" y1="57.7" y2="57.7" stroke="#222" stroke-width="0.8"/>
<rect x="283.5" y="55.800000000000004" width="3.8" height="3.8" fill="#000"/>
<line x1="278.9" x2="291.9" y1="65.5" y2="65.5" stroke="#ff2828" stroke-width="1.0" stroke-dasharray="1.9 1.6"/>
<circle cx="285.4" cy="65.5" r="2.2" fill="#ff0808"/>
<line x1="278.9" x2="291.9" y1="73.2" y2="73.2" stroke="#5a5aff" stroke-width="0.8"/>
<polygon points="285.4,70.3 288.1,75.10000000000001 282.7,75.10000000000001" fill="#0a0aff"/>
<line x1="278.9" x2="291.9" y1="81" y2="81" stroke="#2f9a3a" stroke-width="0.8" stroke-dasharray="1.8 1.1"/>
<polygon points="285.40,77.50 286.31,79.94 288.92,80.06 286.88,81.68 287.57,84.19 285.40,82.75 283.23,84.19 283.92,81.68 281.88,80.06 284.49,79.94" fill="#0a5e14"/>
<text transform="translate(293.54,59.70) scale(1.081,1)" font-family='"Liberation Sans", sans-serif' font-size="5.73" font-weight="normal" fill="#2a2a2a" stroke="#222" stroke-width="0.12">χ</text>
<text transform="translate(299.03,59.51) scale(0.968,1)" font-family='"Liberation Sans", sans-serif' font-size="5.54" font-weight="normal" fill="#222" stroke="#222" stroke-width="0.12">=</text>
<text transform="translate(303.67,59.70) scale(0.744,1)" font-family='"Liberation Sans", sans-serif' font-size="5.87" font-weight="normal" fill="#222" stroke="#222" stroke-width="0.12">1</text>
<text transform="translate(311.04,59.64) scale(1.124,1)" font-family='"Liberation Sans", sans-serif' font-size="5.70" font-weight="normal" fill="#222" stroke="#222" stroke-width="0.12">α = 0</text>
<text transform="translate(293.54,67.50) scale(1.081,1)" font-family='"Liberation Sans", sans-serif' font-size="5.73" font-weight="normal" fill="#2a2a2a" stroke="#222" stroke-width="0.12">χ</text>
<text transform="translate(299.03,67.31) scale(0.968,1)" font-family='"Liberation Sans", sans-serif' font-size="5.54" font-weight="normal" fill="#222" stroke="#222" stroke-width="0.12">=</text>
<text transform="translate(303.49,67.50) scale(0.911,1)" font-family='"Liberation Sans", sans-serif' font-size="5.87" font-weight="normal" fill="#222" stroke="#222" stroke-width="0.12">4</text>
<text transform="translate(311.06,67.44) scale(1.063,1)" font-family='"Liberation Sans", sans-serif' font-size="5.70" font-weight="normal" fill="#ff2020" stroke="#ff2020" stroke-width="0.12">α = 1.19</text>
<text transform="translate(293.54,75.20) scale(1.081,1)" font-family='"Liberation Sans", sans-serif' font-size="5.73" font-weight="normal" fill="#2a2a2a" stroke="#222" stroke-width="0.12">χ</text>
<text transform="translate(299.03,75.01) scale(0.968,1)" font-family='"Liberation Sans", sans-serif' font-size="5.54" font-weight="normal" fill="#222" stroke="#222" stroke-width="0.12">=</text>
<text transform="translate(303.34,75.14) scale(1.007,1)" font-family='"Liberation Sans", sans-serif' font-size="5.70" font-weight="normal" fill="#222" stroke="#222" stroke-width="0.12">8</text>
<text transform="translate(311.06,75.14) scale(1.064,1)" font-family='"Liberation Sans", sans-serif' font-size="5.70" font-weight="normal" fill="#2828ff" stroke="#2828ff" stroke-width="0.12">α = 1.32</text>
<text transform="translate(293.54,83.00) scale(1.081,1)" font-family='"Liberation Sans", sans-serif' font-size="5.73" font-weight="normal" fill="#2a2a2a" stroke="#222" stroke-width="0.12">χ</text>
<text transform="translate(299.03,82.81) scale(0.968,1)" font-family='"Liberation Sans", sans-serif' font-size="5.54" font-weight="normal" fill="#222" stroke="#222" stroke-width="0.12">=</text>
<text transform="translate(303.23,83.00) scale(1.088,1)" font-family='"Liberation Sans", sans-serif' font-size="5.79" font-weight="normal" fill="#222" stroke="#222" stroke-width="0.12">12</text>
<text transform="translate(313.06,82.94) scale(1.034,1)" font-family='"Liberation Sans", sans-serif' font-size="5.70" font-weight="normal" fill="#0a7a1a" stroke="#0a7a1a" stroke-width="0.12">α = 2.54</text>
<text transform="translate(356.95,59.80) scale(1.281,1)" font-family='"Liberation Sans", sans-serif' font-size="7.17" font-weight="normal" fill="#111" stroke="#111" stroke-width="0.28">(b)</text>
<text transform="translate(328.51,187.70) scale(1.012,1)" font-family='"Liberation Sans", sans-serif' font-size="7.10" font-weight="bold" fill="#1a9a2a">ΔT</text>
<text transform="translate(338.20,189.24) scale(0.813,1)" font-family='"Liberation Sans", sans-serif' font-size="6.20" font-weight="bold" fill="#1a9a2a">C</text>
<text transform="translate(363.01,187.70) scale(1.012,1)" font-family='"Liberation Sans", sans-serif' font-size="7.10" font-weight="bold" fill="#ff2020">ΔT</text>
<text transform="translate(372.70,189.24) scale(0.813,1)" font-family='"Liberation Sans", sans-serif' font-size="6.20" font-weight="bold" fill="#ff2020">C</text>
<text transform="translate(353.64,197.65) scale(1.023,1)" font-family='"Liberation Sans", sans-serif' font-size="6.42" font-weight="bold" fill="#222">ΔT (K)</text>
<g transform="translate(0,0)">
<text transform="translate(257.0,139.10) rotate(-90) scale(1.120,1)" font-family='"Liberation Sans", sans-serif' font-size="6.70" fill="#222" stroke="#111" stroke-width="0.28">Heat flux (μW)</text>
</g>
</g>
</svg>
</body></html>
